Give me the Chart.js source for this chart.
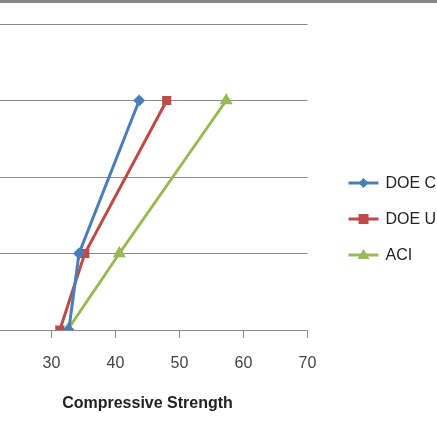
<!DOCTYPE html>
<html><head><meta charset="utf-8">
<script src="https://cdn.jsdelivr.net/npm/chart.js@4"></script>
<style>html,body{margin:0;padding:0;overflow:hidden;background:#fff;width:437px;height:437px}
#w{position:absolute;left:-20.5px;top:0;width:560px;height:437px}</style>
</head><body><div id="w"><canvas id="c" width="560" height="437"></canvas></div>
<script>
const levels = [0, 1, 3];
const doeC = [32.7, 34.3, 43.7];
const doeU = [31.3, 35.2, 48.0];
const aci = [32.5, 40.6, 57.3];
const seriesNames = ['DOE Curve', 'DOE UK', 'ACI'];
const xTicks = [30, 40, 50, 60, 70];
const colors = ['#4A7EBB', '#BE4B48', '#98B954'];
const styles = ['rectRot', 'rect', 'triangle'];
const radii = [6, 6.5, 7.5];
const all = [doeC, doeU, aci];
const datasets = all.map((v, i) => ({
  label: seriesNames[i],
  data: v.map((x, j) => ({x: x, y: levels[j]})),
  borderColor: colors[i], backgroundColor: colors[i],
  borderWidth: 3, pointStyle: styles[i], pointRadius: radii[i], pointBorderWidth: 0,
  showLine: true, tension: 0
}));
const deco = {
  id: 'deco',
  afterDraw(ch) {
    const ctx = ch.ctx;
    ctx.save();
    ctx.fillStyle = '#888';
    ctx.fillRect(0, 0, 560, 3);
    ch.data.datasets.forEach((d, i) => {
      const y = 183 + i * 36, x0 = 368.5;
      ctx.strokeStyle = d.borderColor; ctx.lineWidth = 3;
      ctx.beginPath(); ctx.moveTo(x0, y); ctx.lineTo(x0 + 30, y); ctx.stroke();
      ctx.fillStyle = d.borderColor;
      const cx = x0 + 15;
      ctx.beginPath();
      if (i === 0) { ctx.moveTo(cx, y - 5); ctx.lineTo(cx + 5, y); ctx.lineTo(cx, y + 5); ctx.lineTo(cx - 5, y); }
      else if (i === 1) { ctx.rect(cx - 5, y - 5, 10, 10); }
      else { ctx.moveTo(cx, y - 6); ctx.lineTo(cx + 6, y + 4); ctx.lineTo(cx - 6, y + 4); }
      ctx.fill();
      ctx.fillStyle = '#222'; ctx.font = '16px "Liberation Sans"'; ctx.textBaseline = 'middle';
      ctx.fillText(d.label, x0 + 37, y + 1);
    });
    ctx.restore();
  }
};
new Chart(document.getElementById('c'), {
  type: 'scatter',
  data: {datasets},
  plugins: [deco],
  options: {
    responsive: false, animation: false,
    layout: {padding: {left: 0, right: 232.5, top: 24, bottom: 0}},
    plugins: {legend: {display: false}, tooltip: {enabled: false}},
    scales: {
      x: {
        min: 20, max: 70,
        afterBuildTicks: s => { s.ticks = xTicks.map(v => ({value: v})); },
        afterFit: s => { s.height = 107; },
        grid: {drawOnChartArea: false, tickLength: 8, color: '#888'},
        border: {color: '#888'},
        ticks: {color: '#444', font: {size: 16, family: 'Liberation Sans'}, padding: 16},
        title: {display: true, text: 'Compressive Strength', color: '#222',
          font: {size: 16, weight: 'bold', family: 'Liberation Sans'}, padding: {top: 8, bottom: 24}}
      },
      y: {
        min: 0, max: 4,
        afterFit: s => { s.width = 0; },
        ticks: {display: false, stepSize: 1},
        grid: {color: '#888', drawTicks: false},
        border: {display: false}
      }
    }
  }
});
</script></body></html>
